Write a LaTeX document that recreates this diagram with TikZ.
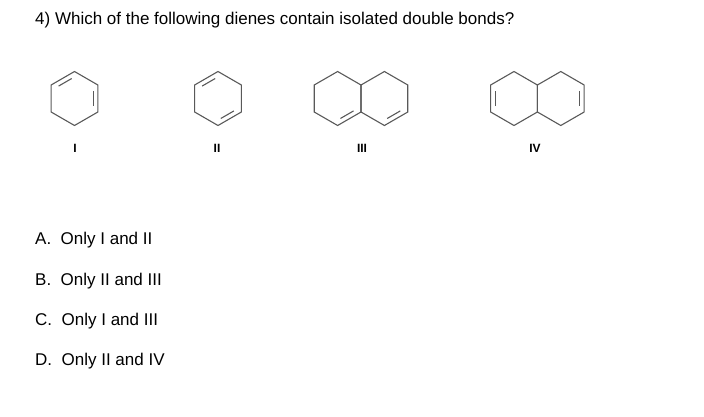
\documentclass[tikz,border=0pt]{standalone}
\usepackage{fontspec}
\setmainfont{Liberation Sans}
\usetikzlibrary{calc}
\begin{document}
\begin{tikzpicture}[x=1pt,y=-1pt,bond/.style={line width=1.1pt,gray!70!black},txt/.style={anchor=west,inner sep=0pt,font=\fontsize{17}{20}\selectfont},lab/.style={inner sep=0pt,font=\fontsize{12}{14}\selectfont\bfseries}]
\useasboundingbox (0,0) rectangle (704,417);
\def\R{27}
\newcommand{\hexa}[3]{%
 \coordinate (#1a) at (#2,#3-\R);
 \coordinate (#1b) at (#2+0.866*\R,#3-0.5*\R);
 \coordinate (#1c) at (#2+0.866*\R,#3+0.5*\R);
 \coordinate (#1d) at (#2,#3+\R);
 \coordinate (#1e) at (#2-0.866*\R,#3+0.5*\R);
 \coordinate (#1f) at (#2-0.866*\R,#3-0.5*\R);
 \coordinate (#1o) at (#2,#3);
 \draw[bond] (#1a)--(#1b)--(#1c)--(#1d)--(#1e)--(#1f)--cycle;}
\newcommand{\dbl}[3]{\draw[bond] ($($(#1)!0.2!(#3)$)!0.15!($(#2)!0.2!(#3)$)$)--($($(#2)!0.2!(#3)$)!0.15!($(#1)!0.2!(#3)$)$);}
\node[txt] (title) at (35,20) {4) Which of the following dienes contain isolated double bonds?};
\hexa{p}{74.5}{98.5}
\dbl{pa}{pf}{po}\dbl{pb}{pc}{po}
\hexa{q}{218}{98.5}
\dbl{qa}{qf}{qo}\dbl{qc}{qd}{qo}
\hexa{r}{337.6}{98.5}
\hexa{s}{384.4}{98.5}
\dbl{rd}{rc}{ro}\dbl{sd}{sc}{so}
\hexa{t}{514}{98.5}
\hexa{u}{560.8}{98.5}
\dbl{te}{tf}{to}\dbl{ub}{uc}{uo}
\node[lab] (l1) at (75,148) {I};
\node[lab] (l2) at (217,148) {II};
\node[lab] (l3) at (362,148) {III};
\node[lab] (l4) at (535,148) {IV};
\node[txt] (A) at (35,240) {A.\ \ Only I and II};
\node[txt] (B) at (35,281) {B.\ \ Only II and III};
\node[txt] (C) at (35,321) {C.\ \ Only I and III};
\node[txt] (D) at (35,361) {D.\ \ Only II and IV};
\end{tikzpicture}
\end{document}
